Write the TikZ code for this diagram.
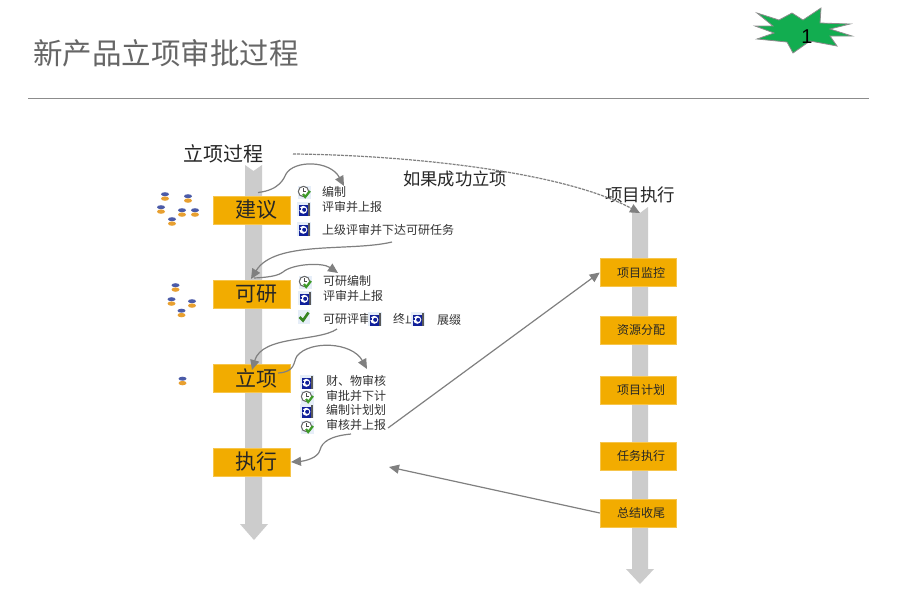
\documentclass[tikz,border=0pt]{standalone}
\usepackage{fontspec}
\setmainfont{Liberation Sans}
\newfontfamily\cjk{Noto Sans CJK SC}
\usetikzlibrary{arrows.meta}
\definecolor{boxor}{HTML}{F2AC00}
\definecolor{railgray}{HTML}{CCCCCC}
\definecolor{linegray}{HTML}{808080}
\definecolor{titlegray}{HTML}{666666}
\definecolor{burst}{HTML}{12AD50}
\definecolor{coinb}{HTML}{4B5BA8}
\definecolor{coino}{HTML}{E8A030}
\definecolor{docb}{HTML}{10209A}
\definecolor{iconbg}{HTML}{E6EEF8}
\definecolor{chk}{HTML}{3E9A28}
\tikzset{
  x=1pt,y=-1pt,
  boxl/.style={fill=boxor,draw=boxor!70!white,line width=0.5pt,minimum width=77pt,minimum height=28pt,inner sep=0pt,font=\cjk\fontsize{21}{21}\selectfont,text=black!85},
  boxr/.style={fill=boxor,draw=boxor!70!white,line width=0.5pt,minimum width=76pt,minimum height=28pt,inner sep=0pt,font=\cjk\fontsize{12}{12}\selectfont,text=black!85},
  lab/.style={inner sep=0pt,anchor=west,font=\cjk\fontsize{12}{12}\selectfont,text=black!80},
  head/.style={inner sep=0pt,font=\cjk\fontsize{20}{20}\selectfont,text=black!85},
  conn/.style={draw=linegray,line width=1.2pt,-{Triangle[length=10pt,width=9pt,fill=linegray]}},
  railbody/.style={fill=railgray,draw=none},
  pics/coin/.style={code={
    \fill[coinb] (0,-1.8) ellipse (4 and 2);
    \fill[coino] (0,2.6) ellipse (4 and 2.2);
  }},
  pics/clock/.style={code={
    \fill[iconbg] (-6.5,-6.5) rectangle (6.5,6.5);
    \draw[black!60,fill=white,line width=1pt] (-0.5,-0.5) circle (5.2);
    \draw[black!70,line width=0.7pt] (-0.5,-4) -- (-0.5,-0.5) -- (2,-0.5);
    \draw[chk,line width=2.2pt] (-1,2) -- (1.2,5) -- (6,-1);
  }},
  pics/docicon/.style={code={
    \fill[iconbg] (-7,-7) rectangle (7,7);
    \fill[docb] (-5.5,-4) rectangle (4.5,6.5);
    \fill[black!65] (3.5,-6) rectangle (5.5,6.5);
    \fill[white] (-0.7,0.8) circle (4);
    \fill[docb] (0.2,0.8) circle (2);
    \fill[docb] (-5,-1) rectangle (-2.8,0.5);
  }},
  pics/tick/.style={code={
    \fill[iconbg] (-6,-7) rectangle (6,7);
    \draw[chk!85!black,line width=2.6pt] (-4.5,0) -- (-1,3.5) -- (4.5,-4.5);
  }}
}
\begin{document}
\begin{tikzpicture}
\useasboundingbox (0,0) rectangle (898,614);
\fill[white] (0,0) rectangle (898,614);
% title
\node[inner sep=0pt,anchor=west,font=\cjk\fontsize{29.5}{29.5}\selectfont,text=titlegray] (title) at (33,53) {新产品立项审批过程};
\coordinate (ruleL) at (28,98); \coordinate (ruleR) at (869,98);
\draw[black!45,line width=0.8pt] (ruleL) -- (ruleR);
% burst
\fill[burst,draw=black!45,line width=0.8pt] (757,13) -- (779,20) -- (792,13) -- (803,20) -- (821,8) -- (820,23) -- (850,24) -- (830,29) -- (852,36) -- (830,36) -- (837,46) -- (810,41) -- (793,53) -- (787,42) -- (757,39) -- (774,33) -- (755,26) -- (773,26) -- cycle;
\node[inner sep=0pt,font=\fontsize{20}{20}\selectfont] (one) at (807,37) {1};
% rails
\fill[railbody] (245,165) -- (253.5,171) -- (262,165) -- (262,524) -- (268,524) -- (254,540) -- (240,524) -- (245,524) -- cycle;
\fill[railbody] (632,207) -- (640,213) -- (648,207) -- (648,569) -- (654,569) -- (640,584) -- (626,569) -- (632,569) -- cycle;
% heads
\node[head] (lixiang) at (223,154) {立项过程};
\node[head,font=\cjk\fontsize{17.3}{17.3}\selectfont] (chenggong) at (455,179) {如果成功立项};
\node[head,font=\cjk\fontsize{17.5}{17.5}\selectfont] (zhixing) at (640,195) {项目执行};
% left boxes
\node[boxl] (b1) at (251.5,210) {\hspace{9pt}建议};
\node[boxl] (b2) at (251.5,294) {\hspace{9pt}可研};
\node[boxl] (b3) at (251.5,378) {\hspace{9pt}立项};
\node[boxl] (b4) at (251.5,462) {\hspace{9pt}执行};
% right boxes
\node[boxr] (r1) at (638,272.5) {\hspace{6pt}项目监控};
\node[boxr] (r2) at (638,330) {\hspace{6pt}资源分配};
\node[boxr] (r3) at (638,390) {\hspace{6pt}项目计划};
\node[boxr] (r4) at (638,456) {\hspace{6pt}任务执行};
\node[boxr] (r5) at (638,513) {\hspace{6pt}总结收尾};
% labels
\node[lab] (a1) at (322,192) {编制};
\node[lab] (a2) at (322,207) {评审并上报};
\node[lab] (a3) at (322,230) {上级评审并下达可研任务};
\node[lab] (c1) at (323,281) {可研编制};
\node[lab] (c2) at (323,296) {评审并上报};
\node[lab] (c3) at (323,319) {可研评审};
\node[lab] (c4) at (393,319) {终止};
\node[lab] (c5) at (437,320) {展缀};
\node[lab] (d1) at (326,381) {财、物审核};
\node[lab] (d2) at (326,396) {审批并下计};
\node[lab] (d3) at (326,410) {编制计划划};
\node[lab] (d4) at (326,425) {审核并上报};
% icons
\pic at (304,192) {clock};
\pic at (304,209) {docicon};
\pic at (304,229) {docicon};
\pic at (305,282) {clock};
\pic at (305,298) {docicon};
\pic at (304,317) {tick};
\pic at (375,319) {docicon};
\pic at (418,319) {docicon};
\pic at (307,382) {docicon};
\pic at (307,397) {clock};
\pic at (307,411) {docicon};
\pic at (307,427) {clock};
% coins
\pic at (165,196) {coin};
\pic at (188,198) {coin};
\pic at (161,209) {coin};
\pic at (182,212) {coin};
\pic at (195,212) {coin};
\pic at (172,221) {coin};
\pic at (175.5,287) {coin};
\pic at (171.5,301) {coin};
\pic at (192,303) {coin};
\pic at (181.5,312.5) {coin};
\pic at (182.5,380.5) {coin};
% connectors
\coordinate (s1) at (258,192.5); \coordinate (e1) at (344,186);
\draw[conn] (s1) .. controls (280,190) and (284,178) .. (286,174) .. controls (294,160) and (330,160) .. (e1);
\coordinate (s2) at (392,242); \coordinate (e2) at (251,279);
\draw[conn] (s2) .. controls (350,252) and (275,240) .. (e2);
\coordinate (s3) at (254,278); \coordinate (e3) at (338,273);
\draw[conn] (s3) .. controls (276,277) and (280,274) .. (283,272) .. controls (292,264) and (322,262) .. (e3);
\coordinate (s4) at (337,329); \coordinate (e4) at (252,370);
\draw[conn] (s4) .. controls (318,342) and (262,335) .. (e4);
\coordinate (s5) at (278,373); \coordinate (e5) at (367,369);
\draw[conn] (s5) .. controls (296,372) and (293,362) .. (297,356) .. controls (310,340) and (352,342) .. (e5);
\coordinate (s6) at (351,434); \coordinate (e6) at (291,462);
\draw[conn] (s6) .. controls (330,436) and (322,442) .. (320,450) .. controls (318,458) and (305,461) .. (e6);
\coordinate (s7) at (388,428);
\draw[conn] (s7) -- (r1.west);
\coordinate (e8) at (389,467);
\draw[conn] (r5.west) -- (e8);
\coordinate (s9) at (293,154);
\draw[linegray,line width=1.2pt,dash pattern=on 3pt off 1pt,-{Triangle[length=10pt,width=9pt,fill=linegray]}] (s9) .. controls (400,155) and (560,170) .. (640,213);
\end{tikzpicture}
\end{document}
